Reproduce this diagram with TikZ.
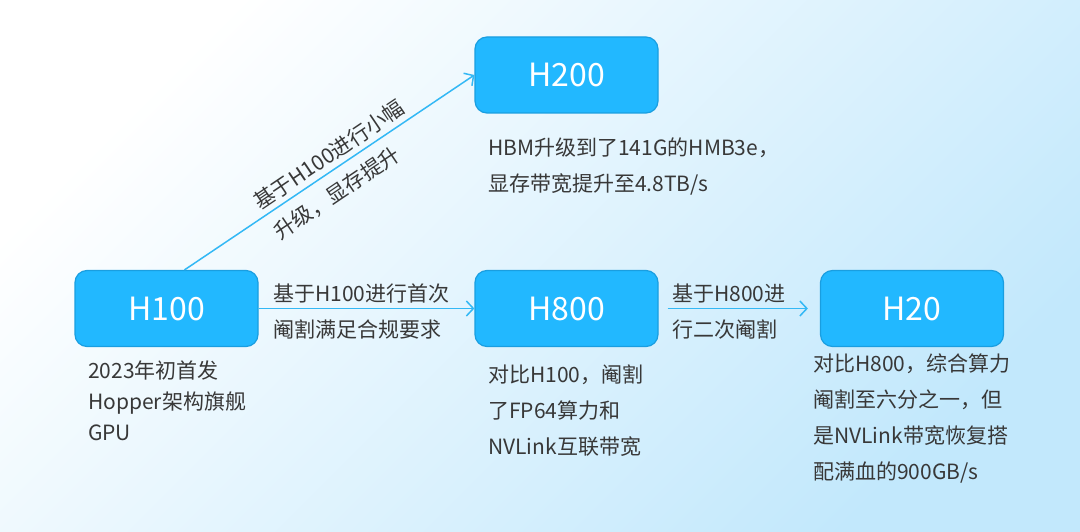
\documentclass[tikz,border=0pt]{standalone}
\usepackage{fontspec}
\setmainfont{Noto Sans CJK SC}
\usetikzlibrary{arrows.meta,calc}
\definecolor{boxblue}{HTML}{22B8FF}
\definecolor{boxedge}{HTML}{1A9EE0}
\definecolor{arrowblue}{HTML}{33B8F5}
\definecolor{txt}{HTML}{383838}
\definecolor{bgbr}{HTML}{C2E8FC}
\begin{document}
\begin{tikzpicture}[x=1pt,y=1pt,
  gpubox/.style={draw=boxedge, line width=1.2pt, fill=boxblue, rounded corners=12pt,
    minimum width=183pt, minimum height=76pt, inner sep=0pt, text=white,
    font=\fontsize{32}{36}\selectfont},
  arr/.style={draw=arrowblue, line width=1.5pt, -{Straight Barb[length=7pt,width=15pt,line width=1.5pt]}},
  lbl/.style={text=txt, align=left, inner sep=0pt, anchor=west},
  lbla/.style={lbl, font=\fontsize{21}{36}\selectfont},
  lblb/.style={lbl, font=\fontsize{21}{31}\selectfont}]
\shade[top color=white, bottom color=bgbr, shading angle=45]
  (0,0) rectangle (1080,-532);
\useasboundingbox (0,0) rectangle (1080,-532);

\node[gpubox] (h100) at (166.5,-308.5) {H100};
\node[gpubox] (h200) at (566.5,-75) {H200};
\node[gpubox] (h800) at (566.5,-308.5) {H800};
\node[gpubox] (h20) at (912,-308.5) {H20};

\draw[arr] (h100.east) -- (h800.west);
\draw[arr, shorten <=9pt, shorten >=12pt] (h800.east) -- (h20.west);
\draw[arr] ([xshift=18pt]h100.north) -- (h200.west);

\node[lbla] (l1) at (273,-311) {基于H100进行首次\\阉割满足合规要求};
\node[lbla] (l2) at (672,-311.5) {基于H800进\\行二次阉割};
\node[text=txt, align=left, inner sep=0pt, font=\fontsize{21}{36}\selectfont, rotate=34]
  (l3) at (339,-170) {基于H100进行小幅\\升级，显存提升};

\node[lblb] (d100) at (88,-401) {2023年初首发\\Hopper架构旗舰\\GPU};
\node[lbla] (d200) at (488,-166.5) {HBM升级到了141G的HMB3e，\\显存带宽提升至4.8TB/s};
\node[lbla] (d800) at (488,-411) {对比H100，阉割\\了FP64算力和\\NVLink互联带宽};
\node[lbla] (d20) at (813,-419) {对比H800，综合算力\\阉割至六分之一，但\\是NVLink带宽恢复搭\\配满血的900GB/s};
\end{tikzpicture}
\end{document}
